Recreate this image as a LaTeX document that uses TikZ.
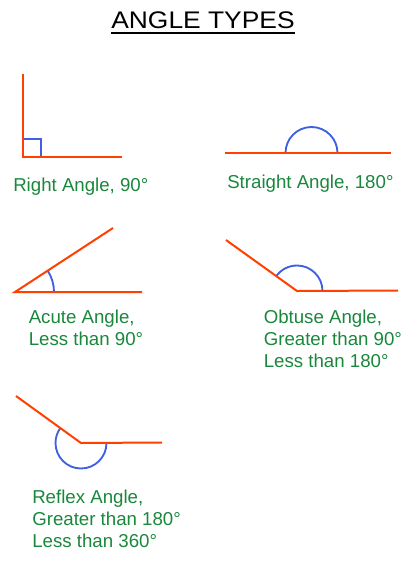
\documentclass[tikz,border=0pt]{standalone}
\usepackage{fontspec}
\setmainfont{Liberation Sans}
\newfontfamily\titlefont[FakeStretch=1.1]{Liberation Sans}
\definecolor{ray}{RGB}{255,64,0}
\definecolor{arcblue}{RGB}{64,96,224}
\definecolor{lbl}{RGB}{25,135,60}
\begin{document}
\begin{tikzpicture}[x=0.75pt,y=-0.75pt,
  ray/.style={draw=ray,line width=1.5pt},
  angarc/.style={draw=arcblue,line width=1.4pt},
  lab/.style={anchor=base west,inner sep=0pt,text=lbl,font=\fontsize{14pt}{16.5pt}\selectfont,align=left}]
\useasboundingbox (0,0) rectangle (417,569);
% title
\node[anchor=base,inner sep=0pt,font=\titlefont\fontsize{18pt}{20pt}\selectfont] (title) at (203,28) {ANGLE TYPES};
\coordinate (ul1) at (111,33); \coordinate (ul2) at (295,33);
\draw[line width=1.5pt] (ul1) -- (ul2);
% right angle
\coordinate (ra) at (23,157); \coordinate (raU) at (23,74); \coordinate (raR) at (122,157);
\draw[arcblue,line width=1.4pt] (23,139) -- (41,139) -- (41,157);
\draw[ray] (raU) -- (ra) -- (raR);
\node[lab] (raL) at (13,191) {Right Angle, 90°};
% straight angle
\coordinate (sa) at (311.5,153); \coordinate (saL) at (225,153); \coordinate (saR) at (391,153);
\draw[angarc] (sa) ++(0:26) arc[start angle=0,end angle=-180,radius=26];
\draw[ray] (saL) -- (saR);
\node[lab] (saT) at (227,188) {Straight Angle, 180°};
% acute
\coordinate (ac) at (15,292); \coordinate (acR) at (142,292); \coordinate (acU) at (113,228);
\draw[angarc] (ac) ++(0:39) arc[start angle=0,end angle=-33,radius=39];
\draw[ray] (acU) -- (ac) -- (acR);
\node[lab] (acT) at (28.5,345) {Acute Angle,\\Less than 90°};
% obtuse
\coordinate (ob) at (297,291); \coordinate (obR) at (398,290.5); \coordinate (obU) at (226,240);
\draw[angarc] (ob) ++(0:25.5) arc[start angle=0,end angle=-144,radius=25.5];
\draw[ray] (obU) -- (ob) -- (obR);
\node[lab] (obT) at (263.5,367) {Obtuse Angle,\\Greater than 90°\\Less than 180°};
% reflex
\coordinate (rf) at (81,443); \coordinate (rfR) at (162,442.5); \coordinate (rfU) at (16,396);
\draw[angarc] (rf) ++(0:25.5) arc[start angle=0,end angle=216,radius=25.5];
\draw[ray] (rfU) -- (rf) -- (rfR);
\node[lab] (rfT) at (32,547) {Reflex Angle,\\Greater than 180°\\Less than 360°};
\end{tikzpicture}
\end{document}
